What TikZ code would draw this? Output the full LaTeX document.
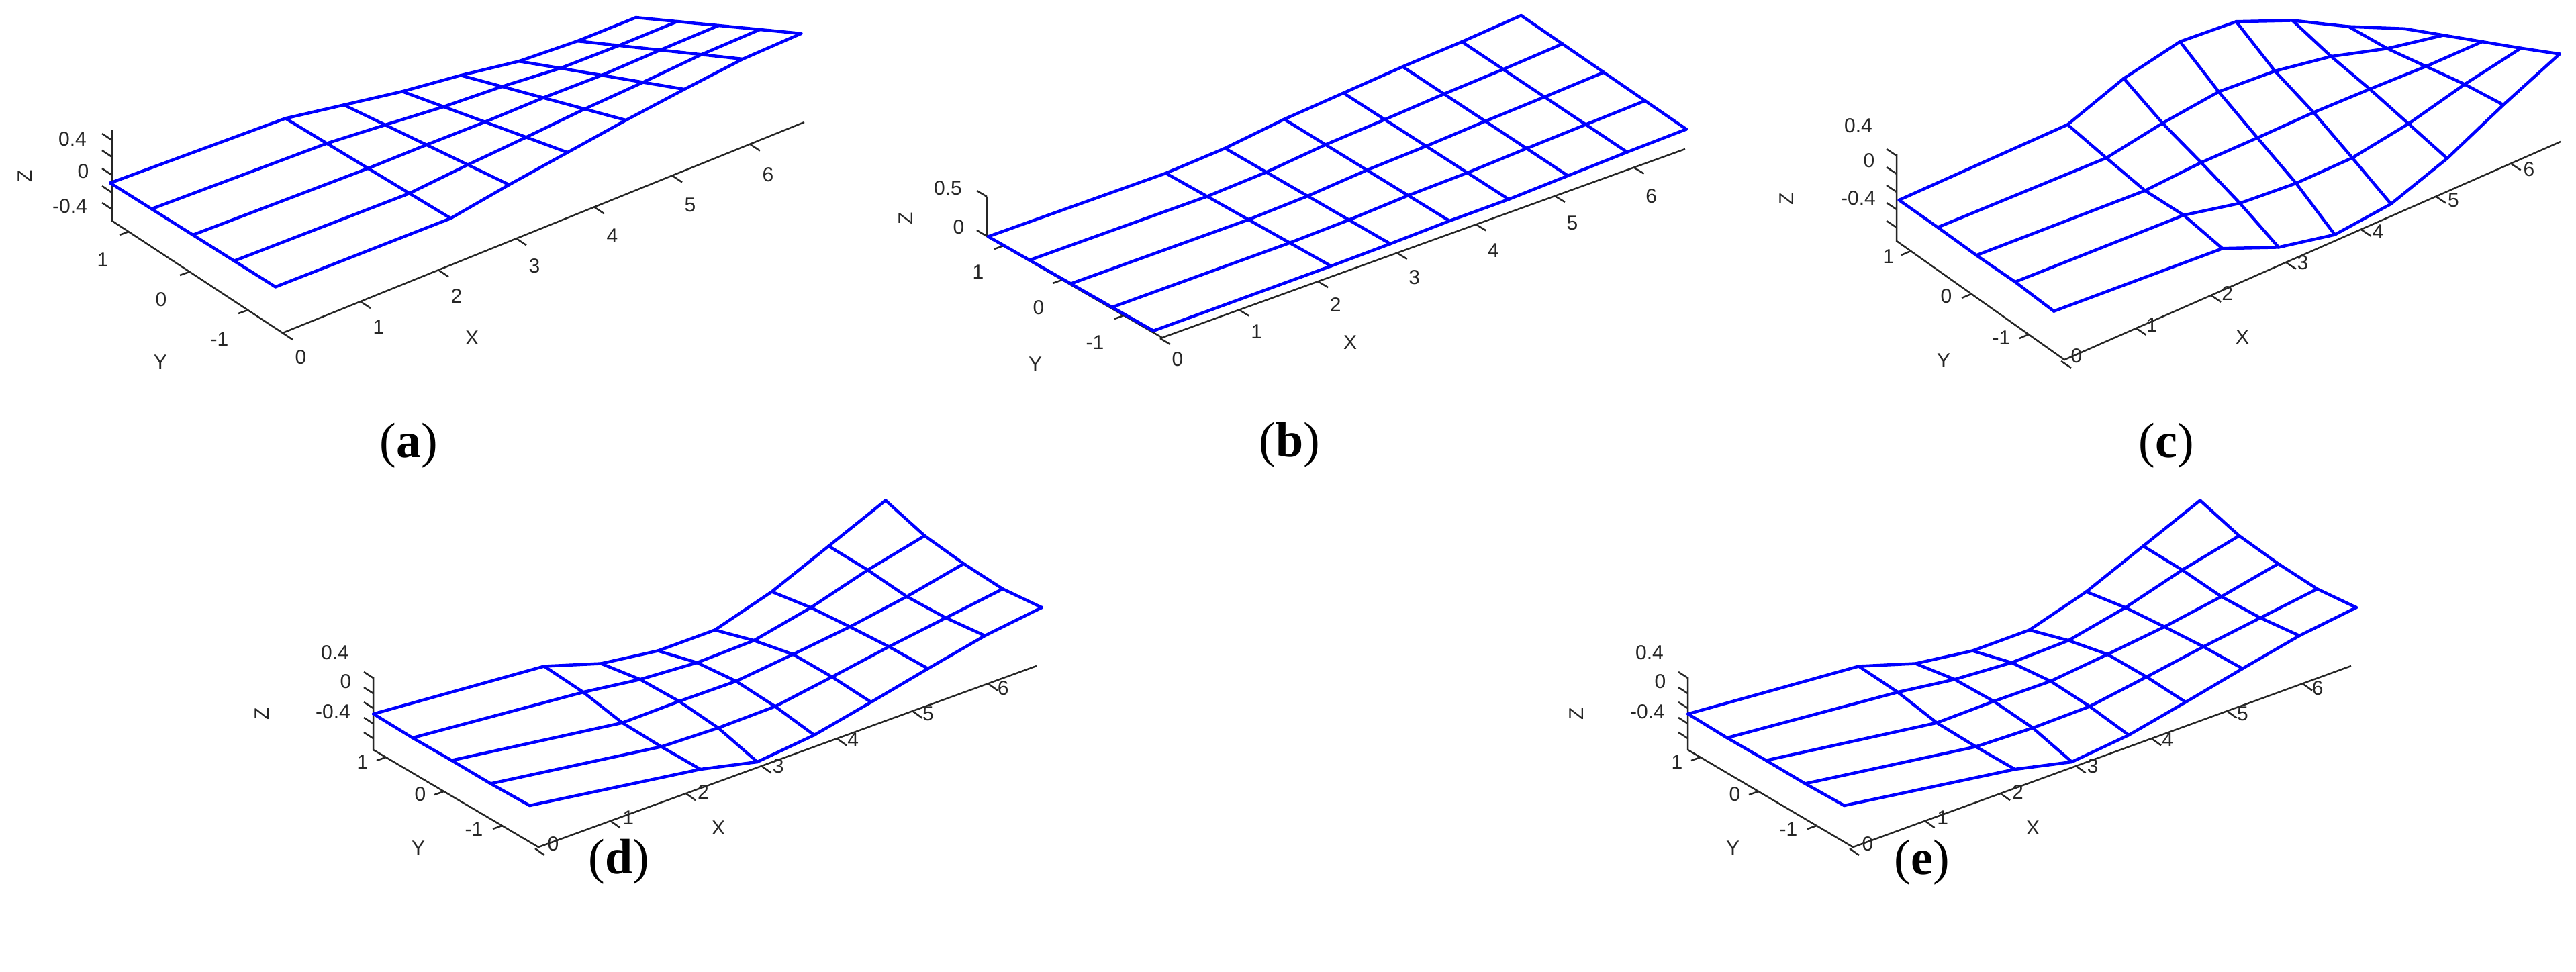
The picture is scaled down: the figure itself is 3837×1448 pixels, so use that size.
\documentclass[tikz,border=0pt]{standalone}
\usepackage{fontspec}
\setmainfont{Liberation Serif}
\newfontfamily\axf{Liberation Sans}
\definecolor{axgray}{HTML}{262626}
\definecolor{meshblue}{RGB}{0,0,255}
\tikzset{
  mesh/.style={draw=meshblue, line width=4.5pt, line join=round, line cap=round},
  ax/.style={draw=axgray, line width=2.5pt},
  tl/.style={font=\axf\fontsize{30}{30}\selectfont, inner sep=0pt, text=axgray},
  captxt/.style={font=\fontsize{74}{74}\selectfont, inner sep=0pt}
}
\newcommand\drawmesh[9]{%
  \foreach \r in {0,...,4}{%
    \foreach \c in {0,...,7}{%
      \pgfmathsetmacro\xv{{0,2.25,3,3.75,4.5,5.25,6,6.75}[\c]}%
      \pgfmathsetmacro\yv{#7+(#8-(#7))*\r/4}%
      \pgfmathtruncatemacro\idx{\r*8+\c}%
      \pgfmathsetmacro\hv{#9[\idx]}%
      \coordinate (m-\r-\c) at ({#1+\xv*#3+\yv*#5},{#2+\xv*#4+\yv*#6-\hv});
    }%
  }%
  \foreach \r in {0,...,4}{\draw[mesh] (m-\r-0) \foreach \c in {1,...,7}{ -- (m-\r-\c)};}%
  \foreach \c in {0,...,7}{\draw[mesh] (m-0-\c) \foreach \r in {1,...,4}{ -- (m-\r-\c)};}%
}
\begin{document}
\begin{tikzpicture}[x=1pt,y=-1pt]
\useasboundingbox (0,0) rectangle (3837,1448);

% ================= (a)
\draw[ax] (167,194) -- (167,329) -- (421,496) -- (1198,182);
\foreach \Y in {209,234,261,287,312}{\draw[ax] (167,\Y) -- ++(-15,-10);}
\foreach \X/\Y in {192/345,282/405,369/462}{\draw[ax] (\X,\Y) -- ++(-14,5);}
\foreach \k in {0,...,6}{\draw[ax] ({421+116*\k},{496-46.9*\k}) -- ++(15,10);}
\drawmesh{282}{412}{116}{-45.4}{-88.5}{-57.5}{1.33}{-1.45}{{63,57,43,29,19,6,2,3,
64.25,59.75,53.25,46.25,42.25,35.5,35.25,37,
65.5,62.5,63.5,63.5,65.5,65,68.5,71,
66.75,65.25,73.75,80.75,88.75,94.5,101.75,105,
68,68,84,98,112,124,135,139}}
\node[tl] (az1) at (108,207) {0.4};
\node[tl] (az2) at (124,255) {0};
\node[tl] (az3) at (104,307) {-0.4};
\node[tl,rotate=90] (azl) at (37,262) {Z};
\node[tl] (ay1) at (153,387) {1};
\node[tl] (ay2) at (240,446) {0};
\node[tl] (ay3) at (327,505) {-1};
\node[tl] (ayl) at (239,539) {Y};
\foreach \k in {0,...,6}{\node[tl] (ax\k) at ({448+116*\k},{532-45.3*\k}) {\k};}
\node[tl] (axl) at (703,503) {X};
\node[captxt] (capa) at (609,664) {(\textbf{a})};

% ================= (b)
\draw[ax] (1470,293) -- (1470,352) -- (1731,503) -- (2510,222);
\foreach \Y in {293,352}{\draw[ax] (1470,\Y) -- ++(-15,-9);}
\foreach \X/\Y in {1495/366,1582/417,1674/470}{\draw[ax] (\X,\Y) -- ++(-14,5);}
\foreach \k in {0,...,6}{\draw[ax] ({1728+117.6*\k},{504-42.4*\k}) -- ++(15,9);}
\drawmesh{1582}{427}{117.6}{-40.2}{-89.5}{-52.5}{1.23}{-1.52}{{10,14,21,34,43,52,59,68,
11,15.5,21.5,32.25,39.5,47.5,54,61.75,
12,17,22,30.5,36,43,49,55.5,
13,18.5,22.5,28.75,32.5,38.5,44,49.25,
14,20,23,27,29,34,39,43}}
\node[tl] (bz1) at (1412,280) {0.5};
\node[tl] (bz2) at (1428,338) {0};
\node[tl,rotate=90] (bzl) at (1349,325) {Z};
\node[tl] (by1) at (1457,405) {1};
\node[tl] (by2) at (1547,458) {0};
\node[tl] (by3) at (1631,510) {-1};
\node[tl] (byl) at (1542,542) {Y};
\foreach \k in {0,...,6}{\node[tl] (bx\k) at ({1754+117.6*\k},{535-40.5*\k}) {\k};}
\node[tl] (bxl) at (2011,510) {X};
\node[captxt] (capb) at (1921,663) {(\textbf{b})};

% ================= (c)
\draw[ax] (2825,230) -- (2825,359) -- (3075,536) -- (3814,211);
\foreach \Y in {232,259,286,312,339}{\draw[ax] (2825,\Y) -- ++(-15,-10);}
\foreach \X/\Y in {2846/374,2936/438,3022/498}{\draw[ax] (\X,\Y) -- ++(-14,6);}
\foreach \k in {0,...,6}{\draw[ax] ({3070+111.6*\k},{538-49.1*\k}) -- ++(15,10);}
\drawmesh{2936}{445}{111.6}{-46.4}{-88}{-59}{1.22}{-1.4}{{75,83,117,137,132,99,55,17,
73,72,89,101,97,84,61,46,
70,62,69,71,74,74,73,75,
69,64,47,42,45,61,85,104,
64,53,20,4,15,48,93,134}}
\node[tl] (cz1) at (2768,187) {0.4};
\node[tl] (cz2) at (2784,239) {0};
\node[tl] (cz3) at (2768,295) {-0.4};
\node[tl,rotate=90] (czl) at (2661,296) {Z};
\node[tl] (cy1) at (2813,382) {1};
\node[tl] (cy2) at (2899,441) {0};
\node[tl] (cy3) at (2981,503) {-1};
\node[tl] (cyl) at (2895,537) {Y};
\foreach \k in {0,...,6}{\node[tl] (cx\k) at ({3093+112.3*\k},{530-46.3*\k}) {\k};}
\node[tl] (cxl) at (3340,502) {X};
\node[captxt] (capc) at (3227,664) {(\textbf{c})};

% ================= (d) and (e)
\foreach \S/\L in {0/d,1958/e}{
\begin{scope}[xshift=\S]
\draw[ax] (556,1008) -- (556,1117) -- (802,1262) -- (1544,992);
\foreach \Y in {1010,1033,1055,1078,1100}{\draw[ax] (556,\Y) -- ++(-14,-9);}
\foreach \X/\Y in {575/1128,661/1179,748/1230}{\draw[ax] (\X,\Y) -- ++(-14,5);}
\foreach \k in {0,...,6}{\draw[ax] ({797+112.5*\k},{1264-40.9*\k}) -- ++(14,10);}
\drawmesh{661}{1188}{113}{-40}{-86.5}{-50}{1.21}{-1.48}{{64,45,19,8,9,36,74,112,
62,40,29,24,27,46,72,93,
62,28,30,30,40,51,66,85,
61,26,24,26,40,55,68,81,
62,26,7,17,36,56,75,87}}
\node[tl] (\L z1) at (499,972) {0.4};
\node[tl] (\L z2) at (515,1015) {0};
\node[tl] (\L z3) at (496,1060) {-0.4};
\node[tl,rotate=90] (\L zl) at (390,1063) {Z};
\node[tl] (\L y1) at (540,1135) {1};
\node[tl] (\L y2) at (626,1183) {0};
\node[tl] (\L y3) at (706,1235) {-1};
\node[tl] (\L yl) at (623,1263) {Y};
\foreach \k in {0,...,6}{\node[tl] (\L x\k) at ({824+111.7*\k},{1257-38.7*\k}) {\k};}
\node[tl] (\L xl) at (1070,1233) {X};
\end{scope}
}
\node[captxt] (capd) at (922,1284) {(\textbf{d})};
\node[captxt] (cape) at (2863,1285) {(\textbf{e})};
\end{tikzpicture}
\end{document}
